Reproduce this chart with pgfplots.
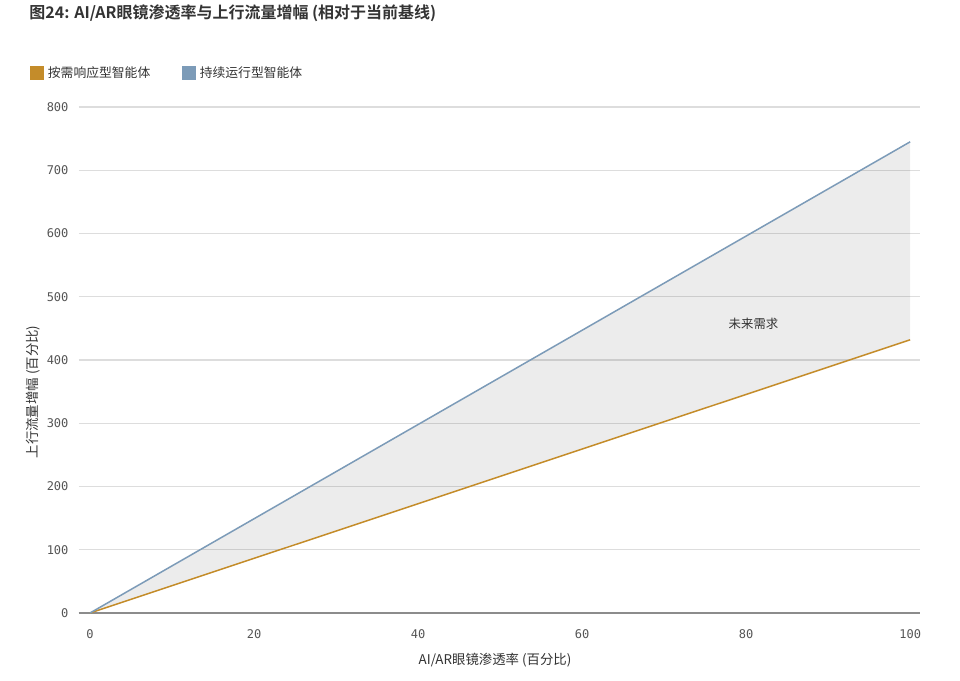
\documentclass[border=0pt]{standalone}
\usepackage{fontspec}
\setmainfont{Noto Sans CJK SC}[BoldFont={Noto Sans CJK SC Bold}]
\setmonofont{DejaVu Sans Mono}
\usepackage{pgfplots}
\pgfplotsset{compat=1.18}
\usepgfplotslibrary{fillbetween}

\definecolor{ondemand}{RGB}{196,140,42}
\definecolor{always}{RGB}{124,155,184}
\definecolor{gridc}{RGB}{221,221,221}
\definecolor{axisc}{RGB}{140,140,140}
\definecolor{tickc}{RGB}{85,85,85}
\definecolor{textc}{RGB}{51,51,51}

\begin{document}
\begin{tikzpicture}
% canvas: 960x681 px, 1 px = 0.5pt
\path (0,0) rectangle (480pt,-340.5pt);
\node[anchor=west, inner sep=0pt, text=textc, font=\bfseries\fontsize{8}{9}\selectfont]
  at (14.5pt,-6.5pt) {图24: AI/AR眼镜渗透率与上行流量增幅 (相对于当前基线)};

\begin{axis}[
    at={(39.25pt,-306.5pt)}, anchor=south west,
    scale only axis,
    width=420.75pt, height=253pt,
    xmin=-1.4, xmax=101.2,
    ymin=0, ymax=800,
    xtick={0,20,...,100},
    ytick={0,100,...,800},
    axis line style={draw=none},
    major tick length=0pt,
    ymajorgrids=true,
    grid style={gridc, line width=0.7pt},
    extra y ticks={0},
    extra y tick labels={},
    extra y tick style={grid style={axisc, line width=0.9pt}},
    /pgf/number format/assume math mode=true,
    ticklabel style={font=\ttfamily\fontsize{6}{7}\selectfont, text=tickc},
    xticklabel style={yshift=-5pt},
    yticklabel style={xshift=-1.5pt},
    xlabel={AI/AR眼镜渗透率 (百分比)},
    ylabel={上行流量增幅 (百分比)},
    label style={font=\fontsize{6.7}{7.5}\selectfont, text=textc},
    xlabel style={at={(rel axis cs:0.495,-0.093)}, anchor=center},
    ylabel style={at={(rel axis cs:-0.054,0.437)}, anchor=center, rotate=0},
    legend columns=-1,
    legend cell align=left,
    legend style={draw=none, fill=none, inner sep=0pt,
        at={(rel axis cs:-0.0576,1.067)}, anchor=west,
        font=\fontsize{6.4}{7}\selectfont, text=textc,
        /tikz/every even column/.append style={column sep=14pt}},
    legend image code/.code={\fill[#1] (0pt,-3pt) rectangle (6pt,3pt);},
]
\addplot[name path=od, ondemand, line width=0.75pt] coordinates {
    (0,0) (20,86.4) (40,172.8) (60,259.2) (80,345.6) (100,432)
};
\addlegendentry{按需响应型智能体}
\addplot[name path=aw, always, line width=0.75pt] coordinates {
    (0,0) (20,149) (40,298) (60,447) (80,596) (100,745)
};
\addlegendentry{持续运行型智能体}
\addplot[fill=black, fill opacity=0.075, draw=none, forget plot]
    fill between[of=aw and od];
\node[font=\fontsize{6.2}{7}\selectfont, text=textc] at (axis cs:80.9,458) {未来需求};
\end{axis}
\end{tikzpicture}
\end{document}
